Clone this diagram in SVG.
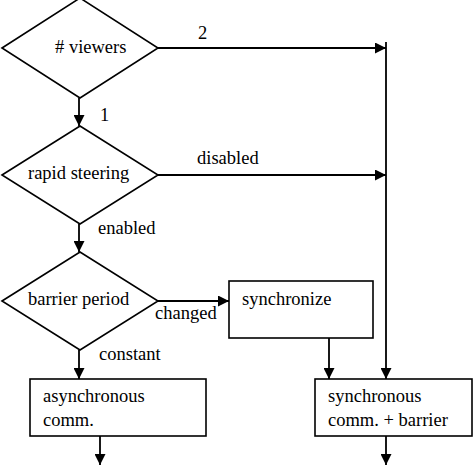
<svg xmlns="http://www.w3.org/2000/svg" width="474" height="465" viewBox="0 0 474 465">
<defs>
<marker id="ah" markerUnits="userSpaceOnUse" markerWidth="11" markerHeight="11" refX="11" refY="5.5" orient="auto"><path d="M0,0 L11,5.5 L0,11 z" fill="#000"/></marker>
</defs>
<rect width="474" height="465" fill="#fff"/>
<g font-family="Liberation Serif" font-size="18.5">
<g id="connectors" fill="none" stroke="#000" stroke-width="1.8">
<path d="M158,48 L386,48" marker-end="url(#ah)"/>
<path d="M386,42 L386,379" marker-end="url(#ah)"/>
<path d="M158,175 L386,175" marker-end="url(#ah)"/>
<path d="M79,98 L79,126" marker-end="url(#ah)"/>
<path d="M79,224 L79,252" marker-end="url(#ah)"/>
<path d="M79,350 L79,379" marker-end="url(#ah)"/>
<path d="M158,301 L229,301" marker-end="url(#ah)"/>
<path d="M329,338 L329,379" marker-end="url(#ah)"/>
<path d="M100,436 L100,465" marker-end="url(#ah)"/>
<path d="M386,436 L386,465" marker-end="url(#ah)"/>
<g fill="#000" stroke="none">
<text x="198" y="39">2</text>
<text x="100" y="121">1</text>
<text x="197" y="164">disabled</text>
<text x="98" y="234">enabled</text>
<text x="155" y="319">changed</text>
<text x="99" y="360">constant</text>
</g>
</g>
<g fill="#fff" stroke="#000" stroke-width="1.6">
<g id="n1"><polygon points="2,48 80,-2 158,48 80,98"/><text fill="#000" stroke="none" x="55" y="53"># viewers</text></g>
<g id="n2"><polygon points="2,175 80,126 158,175 80,224"/><text fill="#000" stroke="none" x="28" y="179">rapid steering</text></g>
<g id="n3"><polygon points="2,301 80,252 158,301 80,350"/><text fill="#000" stroke="none" x="28" y="305">barrier period</text></g>
<g id="n4"><rect x="229" y="281" width="144" height="57"/><text fill="#000" stroke="none" x="242" y="305">synchronize</text></g>
<g id="n5"><rect x="30" y="379" width="176" height="57"/><text fill="#000" stroke="none" x="43" y="402">asynchronous</text><text fill="#000" stroke="none" x="43" y="426">comm.</text></g>
<g id="n6"><rect x="315" y="379" width="157" height="57"/><text fill="#000" stroke="none" x="328" y="402">synchronous</text><text fill="#000" stroke="none" x="328" y="426">comm. + barrier</text></g>
</g>
</g>
</svg>
